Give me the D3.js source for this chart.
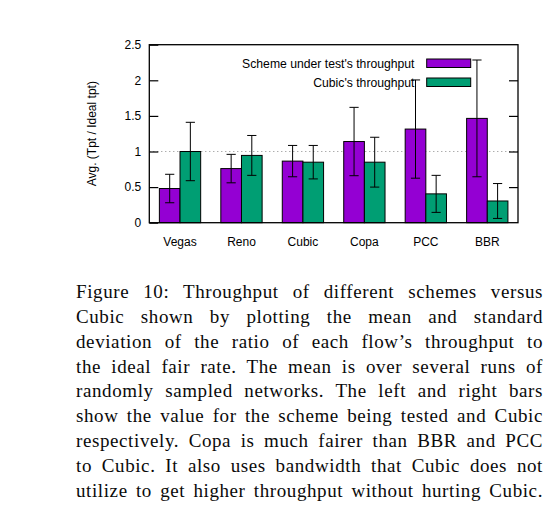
<!DOCTYPE html>
<html>
	<head>
		<meta charset="utf-8">
		<title>Figure 10</title>
		<style>
			body {
				margin: 0;
				background: #fff;
			}
			svg {
				position: absolute;
				left: 0;
				top: 0;
			}
			#caption {
				position: absolute;
				left: 76px;
				top: 280.3px;
				width: 467px;
				font-family: "Liberation Serif", "Times New Roman", serif;
				font-size: 19px;
				line-height: 24.8px;
				letter-spacing: 0.6px;
				color: #0a0a0a;
			}
			#caption div {
				text-align: justify;
				text-align-last: justify;
				white-space: nowrap;
			}
		</style>
	</head>
	<body>
		<svg></svg>
		<div id="caption"></div>

		<script src="https://d3js.org/d3.v7.min.js"></script>
		<script>
			// data
			var categories = ["Vegas", "Reno", "Cubic", "Copa", "PCC", "BBR"]
			var schemeMean = [0.48, 0.76, 0.865, 1.14, 1.315, 1.465]
			var schemeStd = [0.2, 0.2, 0.22, 0.48, 0.69, 0.82]
			var cubicMean = [1.0, 0.945, 0.85, 0.85, 0.405, 0.305]
			var cubicStd = [0.41, 0.28, 0.235, 0.35, 0.26, 0.245]
			var yTicks = [0, 0.5, 1, 1.5, 2, 2.5]
			var legendLabels = ["Scheme under test's throughput", "Cubic's throughput"]
			var captionLines = [
				"Figure 10:  Throughput of different schemes versus",
				"Cubic shown by plotting the mean and standard",
				"deviation of the ratio of each flow\u2019s throughput to",
				"the ideal fair rate.  The mean is over several runs of",
				"randomly sampled networks.  The left and right bars",
				"show the value for the scheme being tested and Cubic",
				"respectively.  Copa is much fairer than BBR and PCC",
				"to Cubic.  It also uses bandwidth that Cubic does not",
				"utilize to get higher throughput without hurting Cubic."
			]

			// init vars
			var _width = 554
			var _height = 520
			var _svg = d3.select("svg").attr("width", _width).attr("height", _height)
			var _font = "'Liberation Sans', Arial, sans-serif"
			var colors = ["#9400d3", "#009e73"]

			// plot box
			var pLeft = 149.3, pRight = 518, pTop = 44.7, pBottom = 222.7

			var x = d3.scaleBand().domain(categories).range([pLeft, pRight]).padding(0)
			var y = d3.scaleLinear().domain([0, 2.5]).range([pBottom, pTop])
			var bw = x.bandwidth() * 0.336

			// dotted line at the ideal rate
			_svg.append("line")
				.attr("x1", pLeft).attr("x2", pRight)
				.attr("y1", y(1)).attr("y2", y(1))
				.attr("stroke", "#8a8a8a")
				.attr("stroke-width", 1)
				.attr("stroke-dasharray", "1,3")

			// bars + error bars
			function addSeries(means, stds, color, offset) {
				var g = _svg.append("g")
				categories.forEach(function(c, i) {
					var cx = x(c) + x.bandwidth() / 2 + offset
					g.append("rect")
						.attr("x", cx - bw / 2)
						.attr("y", y(means[i]))
						.attr("width", bw)
						.attr("height", y(0) - y(means[i]))
						.attr("fill", color)
						.attr("stroke", "#000")
						.attr("stroke-width", 1)
					var lo = y(means[i] - stds[i]), hi = y(means[i] + stds[i])
					g.append("line").attr("x1", cx).attr("x2", cx).attr("y1", lo).attr("y2", hi)
					g.append("line").attr("x1", cx - 4.6).attr("x2", cx + 4.6).attr("y1", lo).attr("y2", lo)
					g.append("line").attr("x1", cx - 4.6).attr("x2", cx + 4.6).attr("y1", hi).attr("y2", hi)
				})
				g.selectAll("line").attr("stroke", "#000").attr("stroke-width", 1)
			}
			addSeries(schemeMean, schemeStd, colors[0], -bw / 2)
			addSeries(cubicMean, cubicStd, colors[1], bw / 2)

			// axes
			_svg.append("g")
				.attr("transform", "translate(" + pLeft + ",0)")
				.call(d3.axisLeft(y).tickValues(yTicks).tickSize(-9).tickSizeOuter(0).tickPadding(8).tickFormat(function(d) { return d }))
			_svg.append("g")
				.attr("transform", "translate(" + pRight + ",0)")
				.call(d3.axisRight(y).tickValues(yTicks.slice(1, -1)).tickSize(-9).tickSizeOuter(0).tickFormat(""))
			_svg.append("g")
				.attr("transform", "translate(0," + pBottom + ")")
				.call(d3.axisBottom(x).tickSize(0).tickSizeOuter(0).tickPadding(14.5))
			_svg.selectAll(".domain").remove()
			_svg.selectAll(".tick line").attr("stroke", "#000").attr("stroke-width", 1.2)
			_svg.selectAll(".tick text").attr("font-family", _font).attr("font-size", 12).attr("fill", "#000")

			// frame
			_svg.append("rect")
				.attr("x", pLeft).attr("y", pTop)
				.attr("width", pRight - pLeft).attr("height", pBottom - pTop)
				.attr("fill", "none")
				.attr("stroke", "#000")
				.attr("stroke-width", 1.3)

			// y label
			_svg.append("text")
				.attr("transform", "translate(96," + (pTop + pBottom) / 2 + ") rotate(-90)")
				.attr("text-anchor", "middle")
				.attr("font-family", _font)
				.attr("font-size", 12)
				.text("Avg. (Tpt / Ideal tpt)")

			// legend
			legendLabels.forEach(function(t, i) {
				var ly = 59 + i * 19
				_svg.append("text")
					.attr("x", 414.5).attr("y", ly + 9.3)
					.attr("text-anchor", "end")
					.attr("font-family", _font)
					.attr("font-size", 12.2)
					.text(t)
				_svg.append("rect")
					.attr("x", 426.7).attr("y", ly)
					.attr("width", 44).attr("height", 8.5)
					.attr("fill", colors[i])
					.attr("stroke", "#000")
					.attr("stroke-width", 1)
			})

			// caption
			d3.select("#caption").selectAll("div")
				.data(captionLines)
				.enter().append("div")
				.text(function(d) { return d })
		</script>
	</body>
</html>
